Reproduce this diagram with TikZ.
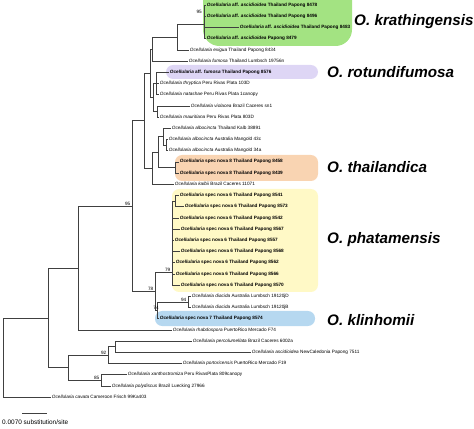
\documentclass[tikz,border=0pt]{standalone}
\usepackage{fontspec}
\setmainfont{Liberation Sans}
\usepackage{xcolor}
\usepackage{tikz}
\definecolor{krathGreen}{HTML}{A3E382}
\definecolor{rotundLilac}{HTML}{DED6F5}
\definecolor{thaiPeach}{HTML}{F9D4B2}
\definecolor{phataYellow}{HTML}{FFF9C6}
\definecolor{klinBlue}{HTML}{B6D8F0}
\definecolor{branchGray}{HTML}{404040}
\tikzset{
  taxon/.style={anchor=west, inner sep=0.6pt, font=\fontsize{4}{4.5}\selectfont},
  taxonb/.style={taxon, font=\fontsize{4}{4.5}\selectfont\bfseries},
  cladename/.style={anchor=west, inner sep=0pt, font=\fontsize{13}{15}\selectfont\bfseries\itshape},
  support/.style={anchor=south east, inner sep=0.4pt, font=\fontsize{4}{4.5}\selectfont},
  branch/.style={draw=branchGray, line width=0.45pt},
}

\begin{document}
\begin{tikzpicture}[x=0.03cm, y=-0.03cm]
  \useasboundingbox (0,0) rectangle (474,429);
  % clade highlights
  \fill[krathGreen, rounded corners=14pt] (203,-20) rectangle (352,46);
  \fill[rotundLilac, rounded corners=6pt] (166,65) rectangle (318,79);
  \fill[thaiPeach, rounded corners=6pt] (175,155) rectangle (318,181);
  \fill[phataYellow, rounded corners=6pt] (172,189) rectangle (318,292);
  \fill[klinBlue, rounded corners=6pt] (155,311) rectangle (315,326);

  % internal nodes
  \coordinate (root) at (3,357.4);
  \coordinate (A) at (48,317.8);
  \coordinate (B) at (78,267.9);
  \coordinate (G) at (132,205.9);
  \coordinate (U) at (144,120.7);
  \coordinate (P) at (150,73.25);
  \coordinate (N3) at (152,49.1);
  \coordinate (N2) at (177,37.2);
  \coordinate (N1) at (204,24.6);
  \coordinate (R) at (153,97.4);
  \coordinate (N4) at (156,83.4);
  \coordinate (N6) at (157,111.4);
  \coordinate (Q) at (152,168.1);
  \coordinate (V) at (158,152);
  \coordinate (W) at (163,136.6);
  \coordinate (W2) at (166,145);
  \coordinate (X) at (175,167.4);
  \coordinate (L) at (155,291.1);
  \coordinate (M) at (172,272);
  \coordinate (S1) at (175,201);
  \coordinate (K) at (157,310.2);
  \coordinate (DD) at (188,301.8);
  \coordinate (C) at (68,367.6);
  \coordinate (D) at (108,355);
  \coordinate (F) at (115,346.6);
  \coordinate (E) at (101,380.2);

  % taxa
  \node[taxonb] (t1) at (206,5) {\textit{Ocellularia} aff. \textit{ascidioidea} Thailand Papong 8478};
  \node[taxonb] (t2) at (206,16.2) {\textit{Ocellularia} aff. \textit{ascidioidea} Thailand Papong 8496};
  \node[taxonb] (t3) at (239,27.4) {\textit{Ocellularia} aff. \textit{ascidioidea} Thailand Papong 8483};
  \node[taxonb] (t4) at (206,38.6) {\textit{Ocellularia} aff. \textit{ascidioidea} Papong 8479};
  \node[taxon] (t5) at (189,49.8) {\textit{Ocellularia exigua} Thailand Papong 8434};
  \node[taxon] (t6) at (188,61) {\textit{Ocellularia fumosa} Thailand Lumbsch 19756n};
  \node[taxonb] (t7) at (169,72.2) {\textit{Ocellularia} aff. \textit{fumosa} Thailand Papong 8576};
  \node[taxon] (t8) at (159,83.4) {\textit{Ocellularia thryptica} Peru Rivas Plata 103D};
  \node[taxon] (t9) at (159,94.6) {\textit{Ocellularia natashae} Peru Rivas Plata 1canopy};
  \node[taxon] (t10) at (190,105.8) {\textit{Ocellularia violacea} Brazil Caceres sn1};
  \node[taxon] (t11) at (159,117) {\textit{Ocellularia mauritiana} Peru Rivas Plata 803D};
  \node[taxon] (t12) at (171,128.2) {\textit{Ocellularia albocincta} Thailand Kalb 38891};
  \node[taxon] (t13) at (168,139.4) {\textit{Ocellularia albocincta} Australia Mangold 43c};
  \node[taxon] (t14) at (168,150.6) {\textit{Ocellularia albocincta} Australia Mangold 34a};
  \node[taxonb] (t15) at (179,161.8) {\textit{Ocellularia} spec nova 8 Thailand Papong 8458};
  \node[taxonb] (t16) at (179,173) {\textit{Ocellularia} spec nova 8 Thailand Papong 8439};
  \node[taxon] (t17) at (174,184.2) {\textit{Ocellularia kalbii} Brazil Caceres 11071};
  \node[taxonb] (t18) at (179,195.4) {\textit{Ocellularia} spec nova 6 Thailand Papong 8541};
  \node[taxonb] (t19) at (184,206.6) {\textit{Ocellularia} spec nova 6 Thailand Papong 8573};
  \node[taxonb] (t20) at (179,217.8) {\textit{Ocellularia} spec nova 6 Thailand Papong 8542};
  \node[taxonb] (t21) at (180,229) {\textit{Ocellularia} spec nova 6 Thailand Papong 8567};
  \node[taxonb] (t22) at (174,240.2) {\textit{Ocellularia} spec nova 6 Thailand Papong 8557};
  \node[taxonb] (t23) at (180,251.4) {\textit{Ocellularia} spec nova 6 Thailand Papong 8568};
  \node[taxonb] (t24) at (175,262.6) {\textit{Ocellularia} spec nova 6 Thailand Papong 8562};
  \node[taxonb] (t25) at (175,273.8) {\textit{Ocellularia} spec nova 6 Thailand Papong 8566};
  \node[taxonb] (t26) at (180,285) {\textit{Ocellularia} spec nova 6 Thailand Papong 8570};
  \node[taxon] (t27) at (191,296.2) {\textit{Ocellularia diacida} Australia Lumbsch 19120jD};
  \node[taxon] (t28) at (191,307.4) {\textit{Ocellularia diacida} Australia Lumbsch 19120jB};
  \node[taxonb] (t29) at (159,318.6) {\textit{Ocellularia} spec nova 7 Thailand Papong 8574};
  \node[taxon] (t30) at (172,329.8) {\textit{Ocellularia rhabdospora} PuertoRico Mercado F74};
  \node[taxon] (t31) at (192,341) {\textit{Ocellularia percolumellata} Brazil Caceres 6002a};
  \node[taxon] (t32) at (251,352.2) {\textit{Ocellularia ascidioidea} NewCaledonia Papong 7511};
  \node[taxon] (t33) at (182,363.4) {\textit{Ocellularia portoricensis} PuertoRico Mercado F19};
  \node[taxon] (t34) at (127,374.6) {\textit{Ocellularia xanthostromiza} Peru RivasPlata 809canopy};
  \node[taxon] (t35) at (111,385.8) {\textit{Ocellularia polydiscus} Brazil Luecking 27966};
  \node[taxon] (t36) at (51,397) {\textit{Ocellularia cavata} Cameroon Frisch 99Ka403};

  % branches
  \draw[branch] (root) |- (A) (root) |- (t36);
  \draw[branch] (A) |- (B) (A) |- (C);
  \draw[branch] (B) |- (G) (B) |- (t30);
  \draw[branch] (G) |- (U) (G) |- (L);
  \draw[branch] (U) |- (P) (U) |- (Q);
  \draw[branch] (P) |- (N3) (P) |- (R);
  \draw[branch] (N3) |- (N2) (N3) |- (t6);
  \draw[branch] (N2) |- (N1) (N2) |- (t5);
  \draw[branch] (N1) |- (t1) (N1) |- (t2) (N1) |- (t3) (N1) |- (t4);
  \draw[branch] (R) |- (N4) (R) |- (N6);
  \draw[branch] (N4) |- (t7) (N4) |- (t8) (N4) |- (t9);
  \draw[branch] (N6) |- (t10) (N6) |- (t11);
  \draw[branch] (Q) |- (V) (Q) |- (t17);
  \draw[branch] (V) |- (W) (V) |- (X);
  \draw[branch] (W) |- (t12) (W) |- (W2);
  \draw[branch] (W2) |- (t13) (W2) |- (t14);
  \draw[branch] (X) |- (t15) (X) |- (t16);
  \draw[branch] (L) |- (M) (L) |- (K);
  \draw[branch] (M) |- (S1) (M) |- (t20) (M) |- (t21) (M) |- (t22) (M) |- (t23)
                (M) |- (t24) (M) |- (t25) (M) |- (t26);
  \draw[branch] (S1) |- (t18) (S1) |- (t19);
  \draw[branch] (K) |- (DD) (K) |- (t29);
  \draw[branch] (DD) |- (t27) (DD) |- (t28);
  \draw[branch] (C) |- (D) (C) |- (E);
  \draw[branch] (D) |- (F) (D) |- (t33);
  \draw[branch] (F) |- (t31) (F) |- (t32);
  \draw[branch] (E) |- (t34) (E) |- (t35);

  % bootstrap values
  \node[support, anchor=east] (bs1) at (202.5,12) {95};
  \node[support] (bs2) at (131,205.9) {95};
  \node[support] (bs3) at (154,291.1) {78};
  \node[support] (bs4) at (171,272) {79};
  \node[support, anchor=south] (bs5) at (156,310.2) {74};
  \node[support] (bs6) at (187,301.8) {94};
  \node[support] (bs7) at (107,355) {92};
  \node[support] (bs8) at (100,380.2) {85};

  % clade names
  \node[cladename] (cl1) at (354,22) {O. krathingensis};
  \node[cladename] (cl2) at (327,72) {O. rotundifumosa};
  \node[cladename] (cl3) at (327,167) {O. thailandica};
  \node[cladename] (cl4) at (327,240) {O. phatamensis};
  \node[cladename] (cl5) at (327,320) {O. klinhomii};

  % scale bar
  \coordinate (sbL) at (22,413);
  \coordinate (sbR) at (47,413);
  \draw[branch] (sbL) -- (sbR);
  \node[anchor=west, inner sep=0pt, font=\fontsize{5.5}{6}\selectfont] (sbT) at (2,422) {0.0070 substitution/site};
\end{tikzpicture}
\end{document}
